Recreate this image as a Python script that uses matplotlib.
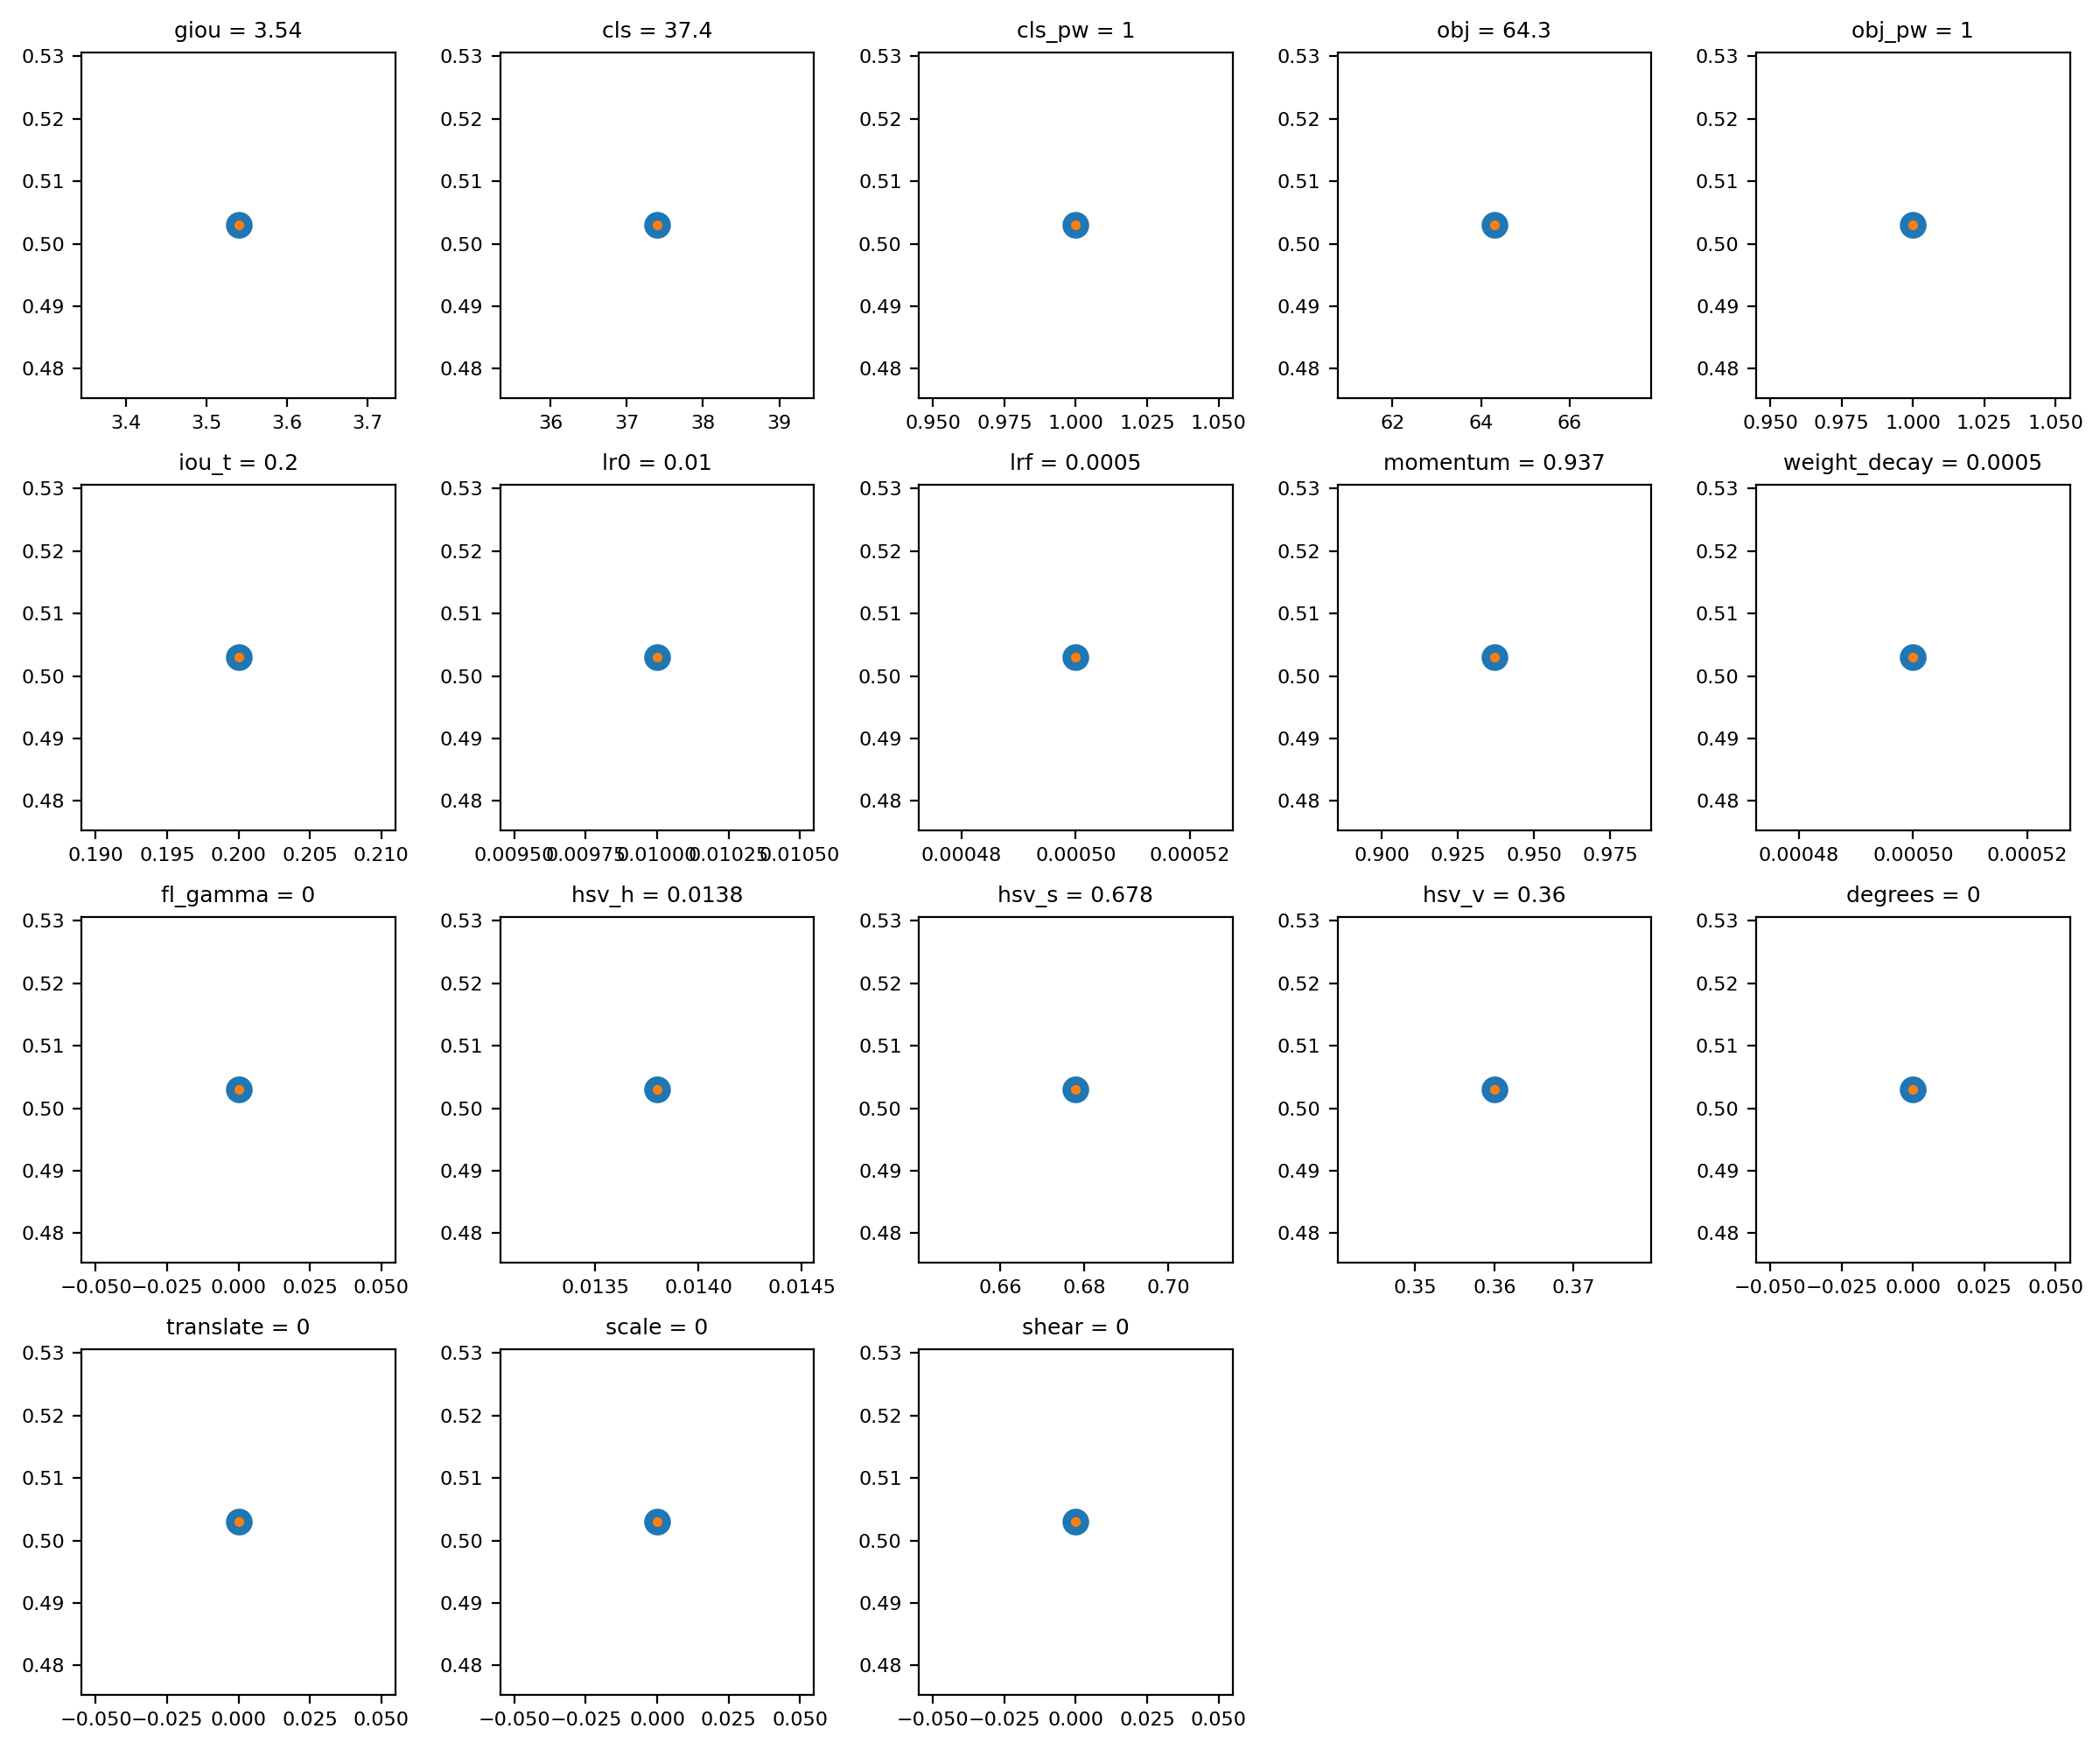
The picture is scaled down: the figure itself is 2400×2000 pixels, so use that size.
import matplotlib
matplotlib.use('Agg')
import matplotlib.pyplot as plt

# hyperparameter names and their values (one evolve result)
names = ['giou', 'cls', 'cls_pw', 'obj', 'obj_pw',
         'iou_t', 'lr0', 'lrf', 'momentum', 'weight_decay',
         'fl_gamma', 'hsv_h', 'hsv_s', 'hsv_v', 'degrees',
         'translate', 'scale', 'shear']
values = [3.54, 37.4, 1.0, 64.3, 1.0,
          0.2, 0.01, 0.0005, 0.937, 0.0005,
          0.0, 0.0138, 0.678, 0.36, 0.0,
          0.0, 0.0, 0.0]
fitness = 0.503

matplotlib.rc('font', **{'size': 8})
fig = plt.figure(figsize=(12, 10), tight_layout=True)
for i, (k, v) in enumerate(zip(names, values)):
    plt.subplot(4, 5, i + 1)
    plt.plot(v, fitness, 'o', markersize=10)
    plt.plot(v, fitness, '.')
    plt.title('%s = %.3g' % (k, v), fontdict={'size': 9})

plt.savefig('out.png', dpi=200)
